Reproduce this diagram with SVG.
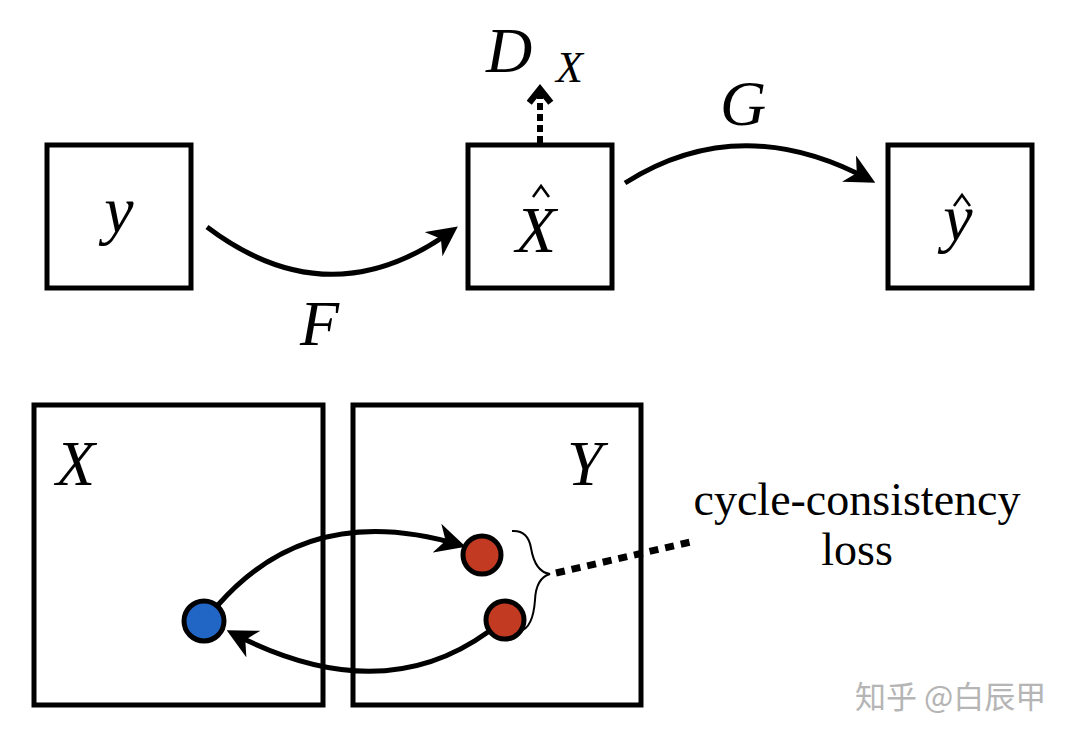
<svg xmlns="http://www.w3.org/2000/svg" width="1082" height="742" viewBox="0 0 1082 742">
<style>
.box{fill:none;stroke:#000;stroke-width:5}
.ln{fill:none;stroke:#000;stroke-width:5}
.hat{fill:none;stroke:#000;stroke-width:2.5}
.m{font-family:"Liberation Serif",serif;font-style:italic;fill:#000}
.t{font-family:"Liberation Serif",serif;fill:#000;font-size:46px}
</style>
<defs>
<marker id="ah" viewBox="0 0 10 10" refX="8" refY="5" markerWidth="6" markerHeight="6" orient="auto" markerUnits="strokeWidth">
<path d="M0,0 L10,5 L0,10 L3,5 z" fill="#000"/>
</marker>
<marker id="ch" viewBox="0 0 10 10" refX="5" refY="5" markerWidth="4.5" markerHeight="4.5" orient="auto" markerUnits="strokeWidth">
<path d="M1,1 L6,5 L1,9" fill="none" stroke="#000" stroke-width="2.4"/>
</marker>
</defs>
<rect width="1082" height="742" fill="#fff"/>
<g id="node-y"><rect class="box" x="47" y="145" width="144" height="143"/><text class="m" x="119" y="232" font-size="66" text-anchor="middle">y</text></g>
<g id="node-xhat"><rect class="box" x="468" y="145" width="144" height="143"/><text class="m" x="536" y="252" font-size="66" text-anchor="middle">X</text><path class="hat" d="M533,197 L541,186 L549,197"/></g>
<g id="node-yhat"><rect class="box" x="888" y="145" width="144" height="143"/><text class="m" x="958" y="240" font-size="66" text-anchor="middle">y</text><path class="hat" d="M954,206 L962,195 L970,206"/></g>
<g id="node-Dx"><text class="m" x="486" y="72" font-size="64">D</text><text class="m" x="556" y="82" font-size="44">X</text></g>
<g id="node-X"><rect class="box" x="34" y="405" width="289" height="300"/><text class="m" x="56" y="485" font-size="64">X</text></g>
<g id="node-Y"><rect class="box" x="353" y="405" width="288" height="300"/><text class="m" x="567" y="485" font-size="64">Y</text></g>
<g id="node-loss"><text class="t" x="857" y="515" text-anchor="middle">cycle-consistency</text><text class="t" x="857" y="565" text-anchor="middle">loss</text></g>
<g id="node-pts">
<circle cx="204" cy="621" r="20" fill="#2166c4" stroke="#000" stroke-width="5"/>
<circle cx="482" cy="555" r="19" fill="#c23a22" stroke="#000" stroke-width="5"/>
<circle cx="505" cy="620" r="19" fill="#c23a22" stroke="#000" stroke-width="5"/>
</g>
<g id="connectors">
<path class="ln" d="M207,227 Q330,320 453,230" marker-end="url(#ah)"/>
<text class="m" x="300" y="345" font-size="64">F</text>
<path class="ln" d="M625,183 Q740,110 870,180" marker-end="url(#ah)"/>
<text class="m" x="720" y="125" font-size="64">G</text>
<path d="M540,143 L540,92" fill="none" stroke="#000" stroke-width="6" stroke-dasharray="7,4" marker-end="url(#ch)"/>
<path class="ln" d="M218,605 Q310,500 460,545" marker-end="url(#ah)"/>
<path class="ln" d="M488,632 Q380,710 232,633" marker-end="url(#ah)"/>
<path d="M512,531 Q528,530 531,548 Q535,572 550,574 Q536,578 535,600 Q533,628 520,631" fill="none" stroke="#000" stroke-width="2"/>
<path d="M556,573 L695,541" fill="none" stroke="#000" stroke-width="7" stroke-dasharray="9,7"/>
</g>
<text x="855" y="708" font-family="'Noto Sans CJK SC',sans-serif" font-size="31" fill="#b5b5b5">知乎 @白辰甲</text>
</svg>
